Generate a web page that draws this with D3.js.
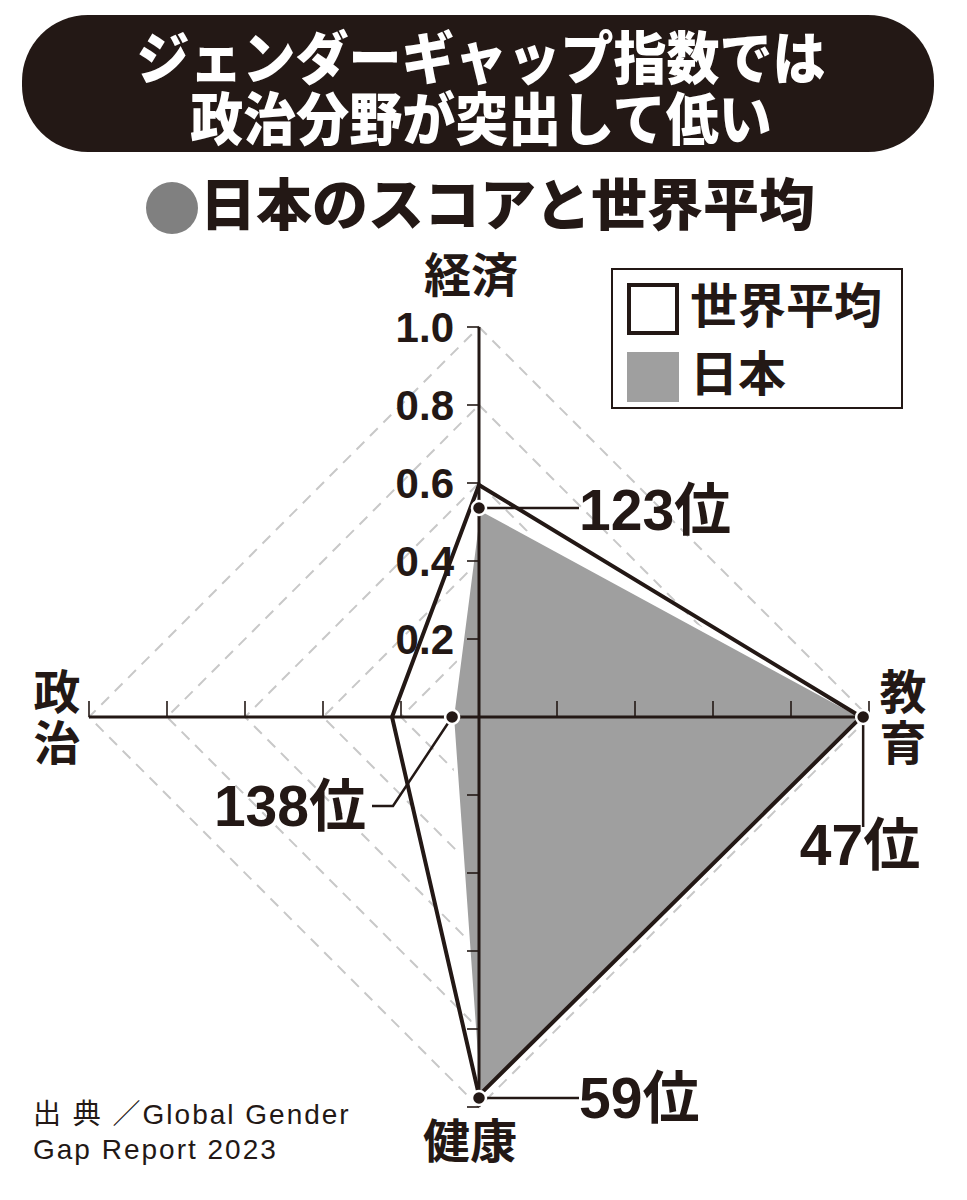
<!DOCTYPE html>
<html>
<head>
<meta charset="utf-8">
<script src="https://cdn.jsdelivr.net/npm/d3@7"></script>
<style>
  body { margin: 0; background: #fff; }
  #chart { position: relative; width: 967px; height: 1200px; }
  svg { display: block; }
  .title {
    position: absolute; left: 25px; width: 912px; top: 24px;
    text-align: center; color: #fff;
    font-family: 'Noto Sans CJK JP', sans-serif; font-weight: 900;
    font-size: 57px; line-height: 61px;
    transform: scaleX(0.93);
  }
</style>
</head>
<body>
<div id="chart"></div>
<script>
// values
const axes = ["経済", "教育", "健康", "政治"];
const japan = [0.536, 0.985, 0.977, 0.069];
const world = [0.595, 0.98, 0.97, 0.223];
const ranks = ["123位", "47位", "59位", "138位"];
const ticks = [0.2, 0.4, 0.6, 0.8, 1.0];
const tickLabels = ["0.2", "0.4", "0.6", "0.8", "1.0"];
const titleLines = ["ジェンダーギャップ指数では", "政治分野が突出して低い"];

const W = 967, H = 1200;
const cx = 479, cy = 717;
const ink = "#231815";
const jp = "'Noto Sans CJK JP', sans-serif";
const num = "'Liberation Sans', 'Noto Sans CJK JP', sans-serif";

const svg = d3.select("#chart").append("svg")
    .attr("width", W)
    .attr("height", H);

// title box
svg.append("rect")
    .attr("x", 22).attr("y", 15)
    .attr("width", 912).attr("height", 137)
    .attr("rx", 66)
    .attr("fill", ink);

// two-line title as one block of text
d3.select("#chart").append("div")
    .attr("class", "title")
    .html(titleLines.join("<br>"));

// subtitle
svg.append("circle")
    .attr("cx", 172).attr("cy", 208).attr("r", 26)
    .attr("fill", "#808080");
svg.append("text")
    .attr("x", 200).attr("y", 210)
    .attr("dominant-baseline", "middle")
    .attr("font-family", jp)
    .attr("font-weight", 900)
    .attr("font-size", 56)
    .attr("fill", ink)
    .text("日本のスコアと世界平均");

const r = d3.scaleLinear().domain([0, 1]).range([0, 390]);
const angle = d3.scaleLinear().domain([0, 4]).range([-Math.PI / 2, Math.PI * 1.5]);

function pt(v, i) {
    const a = angle(i);
    return [cx + r(v) * Math.cos(a), cy + r(v) * Math.sin(a)];
}

const line = d3.line();

// dashed grid diamonds
svg.selectAll(".grid")
    .data(ticks)
    .enter().append("path")
    .attr("class", "grid")
    .attr("d", function(t) { return line(axes.map(function(a, i) { return pt(t, i); })) + "Z"; })
    .attr("fill", "none")
    .attr("stroke", "#c8c8c8")
    .attr("stroke-width", 2)
    .attr("stroke-dasharray", "11,8");

// Japan polygon
svg.append("path")
    .attr("d", line(japan.map(pt)) + "Z")
    .attr("fill", "#9f9f9f")
    .attr("stroke", "#fff")
    .attr("stroke-width", 4)
    .attr("stroke-linejoin", "miter");

// axes
svg.selectAll(".axis")
    .data(axes)
    .enter().append("line")
    .attr("class", "axis")
    .attr("x1", cx).attr("y1", cy)
    .attr("x2", function(d, i) { return pt(1, i)[0]; })
    .attr("y2", function(d, i) { return pt(1, i)[1]; })
    .attr("stroke", ink)
    .attr("stroke-width", 3);

// tick marks: up on the horizontal axis, left on the vertical one
axes.forEach(function(a, i) {
    svg.selectAll(".tick" + i)
        .data(ticks)
        .enter().append("line")
        .attr("x1", function(t) { return pt(t, i)[0]; })
        .attr("y1", function(t) { return pt(t, i)[1]; })
        .attr("x2", function(t) { return pt(t, i)[0] - (i % 2 === 0 ? 12 : 0); })
        .attr("y2", function(t) { return pt(t, i)[1] - (i % 2 === 1 ? 16 : 0); })
        .attr("stroke", ink)
        .attr("stroke-width", 1.6);
});

// tick labels on the top axis
svg.selectAll(".tlabel")
    .data(ticks)
    .enter().append("text")
    .attr("class", "tlabel")
    .attr("x", cx - 25)
    .attr("y", function(t) { return pt(t, 0)[1] + 15; })
    .attr("text-anchor", "end")
    .attr("font-family", num)
    .attr("font-weight", 700)
    .attr("font-size", 42)
    .attr("fill", ink)
    .text(function(t, i) { return tickLabels[i]; });

// world average outline
svg.append("path")
    .attr("d", line(world.map(pt)) + "Z")
    .attr("fill", "none")
    .attr("stroke", ink)
    .attr("stroke-width", 4)
    .attr("stroke-linejoin", "miter");

// leader lines from Japan points to ranks
const jpPts = japan.map(pt);
const leaders = [
    [jpPts[0], [jpPts[0][0] + 100, jpPts[0][1]]],
    [jpPts[1], [jpPts[1][0], jpPts[1][1] + 110]],
    [jpPts[2], [jpPts[2][0] + 100, jpPts[2][1]]],
    [jpPts[3], [393, 806], [372, 806]]
];
svg.selectAll(".leader")
    .data(leaders)
    .enter().append("path")
    .attr("class", "leader")
    .attr("d", function(d) { return line(d); })
    .attr("fill", "none")
    .attr("stroke", ink)
    .attr("stroke-width", 2.5);

svg.selectAll(".dot")
    .data(jpPts)
    .enter().append("circle")
    .attr("class", "dot")
    .attr("cx", function(d) { return d[0]; })
    .attr("cy", function(d) { return d[1]; })
    .attr("r", 7)
    .attr("fill", ink)
    .attr("stroke", "#fff")
    .attr("stroke-width", 2.5);

// rank labels
const rankPos = [
    { x: 579, y: 530, anchor: "start" },
    { x: 860, y: 865, anchor: "middle" },
    { x: 579, y: 1118, anchor: "start" },
    { x: 366, y: 826, anchor: "end" }
];
svg.selectAll(".rank")
    .data(ranks)
    .enter().append("text")
    .attr("class", "rank")
    .attr("x", function(d, i) { return rankPos[i].x; })
    .attr("y", function(d, i) { return rankPos[i].y; })
    .attr("text-anchor", function(d, i) { return rankPos[i].anchor; })
    .attr("font-family", num)
    .attr("font-weight", 700)
    .attr("font-size", 57)
    .attr("fill", ink)
    .text(function(d) { return d; });

// axis names
function axisName(label, x, y, vertical) {
    const t = svg.append("text")
        .attr("x", x).attr("y", y)
        .attr("font-family", jp)
        .attr("font-weight", 700)
        .attr("font-size", 47)
        .attr("fill", ink)
        .text(label);
    if (vertical) {
        t.attr("writing-mode", "vertical-rl")
            .attr("letter-spacing", 4);
    } else {
        t.attr("text-anchor", "middle");
    }
}
axisName(axes[0], 471, 292, false);
axisName(axes[1], 903, 668, true);
axisName(axes[2], 470, 1158, false);
axisName(axes[3], 57, 668, true);

// legend
svg.append("rect")
    .attr("x", 612).attr("y", 269)
    .attr("width", 290).attr("height", 139)
    .attr("fill", "#fff")
    .attr("stroke", ink)
    .attr("stroke-width", 2);
svg.append("rect")
    .attr("x", 629).attr("y", 285)
    .attr("width", 48).attr("height", 48)
    .attr("fill", "#fff")
    .attr("stroke", ink)
    .attr("stroke-width", 4);
svg.append("rect")
    .attr("x", 627).attr("y", 352)
    .attr("width", 52).attr("height", 50)
    .attr("fill", "#9f9f9f");
svg.selectAll(".leg")
    .data(["世界平均", "日本"])
    .enter().append("text")
    .attr("class", "leg")
    .attr("x", 690)
    .attr("y", function(d, i) { return 310 + i * 68; })
    .attr("dominant-baseline", "middle")
    .attr("font-family", jp)
    .attr("font-weight", 700)
    .attr("font-size", 48)
    .attr("fill", ink)
    .text(function(d) { return d; });

// source
svg.selectAll(".src")
    .data(["出 典 ／Global Gender", "Gap Report 2023"])
    .enter().append("text")
    .attr("class", "src")
    .attr("x", 33)
    .attr("y", function(d, i) { return 1124 + i * 35; })
    .attr("font-family", "'Liberation Sans', 'Noto Sans CJK JP', sans-serif")
    .attr("font-size", 28)
    .attr("letter-spacing", 2)
    .attr("fill", ink)
    .text(function(d) { return d; });
</script>
</body>
</html>
